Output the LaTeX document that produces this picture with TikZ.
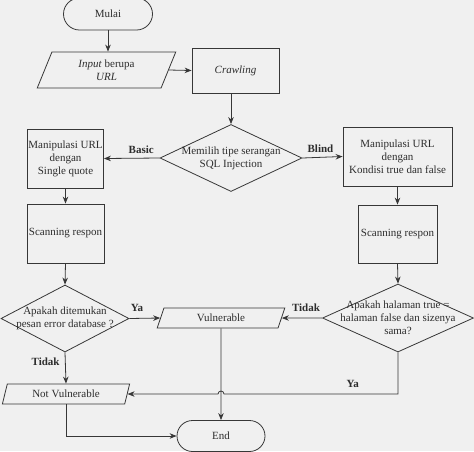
\documentclass[tikz,border=0pt]{standalone}
\usepackage{fontspec}
\setmainfont{Liberation Serif}
\usetikzlibrary{shapes.geometric,shapes.misc,arrows.meta}
\definecolor{bg}{RGB}{240,240,240}
\definecolor{lc}{RGB}{55,55,55}
\definecolor{tc}{RGB}{45,45,45}
\begin{document}
\begin{tikzpicture}[x=1pt,y=-1pt,
  base/.style={draw=lc, line width=0.8pt, font=\fontsize{11}{13}\selectfont, align=center, text=tc, inner sep=0pt},
  term/.style={base, rounded rectangle},
  proc/.style={base, rectangle},
  io/.style={base, trapezium, trapezium left angle=70, trapezium right angle=110, trapezium stretches=true},
  decision/.style={base, diamond},
  dtext/.style={font=\fontsize{11}{13}\selectfont, align=center, text=tc},
  lab/.style={font=\bfseries\fontsize{11}{13}\selectfont, text=tc},
  arr/.style={draw=lc, line width=0.8pt, -{Stealth[length=7pt,width=5.5pt]}},
  ln/.style={draw=lc, line width=0.8pt}
]
\useasboundingbox (0,0) rectangle (474,451);
\fill[bg] (0,0) rectangle (474,451);

\node[term, minimum width=89pt, minimum height=32pt] (mulai) at (108,14) {Mulai};
\node[io, minimum width=139pt, minimum height=36pt] (input) at (106.5,70) {\textit{Input} berupa\\\textit{URL}};
\node[proc, minimum width=87pt, minimum height=45pt] (crawl) at (235.5,70.5) {\textit{Crawling}};
\node[decision, minimum width=142pt, minimum height=67pt,
  label={[dtext]center:{Memilih tipe serangan\\SQL Injection}}] (pilih) at (231,158) {};
\node[proc, minimum width=76pt, minimum height=59pt] (manL) at (65.5,158.5) {Manipulasi URL\\dengan\\Single quote};
\node[proc, minimum width=109pt, minimum height=59pt] (manR) at (397.5,156.5) {Manipulasi URL\\dengan\\Kondisi true dan false};
\node[proc, minimum width=77pt, minimum height=59pt] (scanL) at (65.5,233.5) {Scanning respon};
\node[proc, minimum width=79pt, minimum height=58pt] (scanR) at (397.5,234) {Scanning respon};
\node[decision, minimum width=128pt, minimum height=67pt,
  label={[dtext]center:{Apakah ditemukan\\pesan error database ?}}] (decL) at (65,318.5) {};
\node[decision, minimum width=151pt, minimum height=68pt,
  label={[dtext]center:{Apakah halaman true =\\halaman false dan sizenya\\sama?}}] (decR) at (398,318) {};
\node[io, minimum width=128pt, minimum height=20pt] (vul) at (221,318) {Vulnerable};
\node[io, minimum width=128pt, minimum height=20pt] (notvul) at (66,394) {Not Vulnerable};
\node[term, minimum width=88pt, minimum height=31pt] (end) at (221,436) {End};

\coordinate (yaC) at (decR.south |- notvul.east);
\coordinate (hop) at (vul.south |- notvul.east);

\draw[arr] (mulai.south) -- (mulai.south |- input.north);
\draw[arr] (input.east) -- (crawl.west);
\draw[arr] (pilih.north |- crawl.south) -- (pilih.north);
\draw[arr] (pilih.west) -- node[lab, pos=0.33, above=1pt]{Basic} (manL.east);
\draw[arr] (pilih.east) -- node[lab, pos=0.45, above=1pt]{Blind} (manR.west);
\draw[arr] (manL.south) -- (scanL.north);
\draw[arr] (manR.south) -- (scanR.north);
\draw[arr] (scanL.south) -- (decL.north);
\draw[arr] (scanR.south) -- (decR.north);
\draw[arr] (decL.east) -- node[lab, pos=0.25, above=3pt]{Ya} (vul.west);
\draw[arr] (decR.west) -- node[lab, pos=0.4, above=3pt]{Tidak} (vul.east);
\draw[arr] (decL.south) -- node[lab, pos=0.3, left=2pt]{Tidak} (notvul.north);
\draw[arr] (decR.south) -- (yaC) -- node[lab, pos=0.26, above=3pt]{Ya} ([xshift=3pt]hop) arc[start angle=0, end angle=180, radius=3pt] -- (notvul.east);
\draw[arr] (vul.south) -- (end.north);
\draw[arr] (notvul.south) |- (end.west);
\end{tikzpicture}
\end{document}
